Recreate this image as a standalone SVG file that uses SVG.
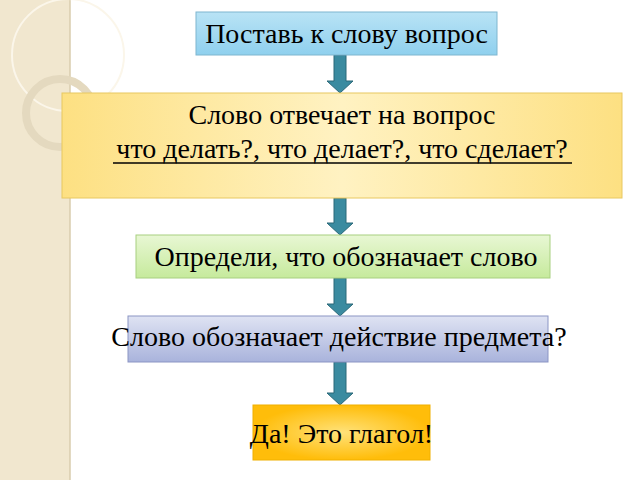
<svg xmlns="http://www.w3.org/2000/svg" width="640" height="480" viewBox="0 0 640 480">
<style>
text{font-family:"Liberation Serif",serif;fill:#000;font-size:28px}
.a{fill:#3b8ba0;stroke:#2a6878;stroke-width:1}
</style>
<defs>
<linearGradient id="g1" x1="0" y1="0" x2="0" y2="1"><stop offset="0" stop-color="#b9e3f5"/><stop offset="1" stop-color="#8fd0ee"/></linearGradient>
<linearGradient id="g2" x1="0" y1="0" x2="1" y2="0"><stop offset="0" stop-color="#fde082"/><stop offset="0.5" stop-color="#fff2c2"/><stop offset="1" stop-color="#fde082"/></linearGradient>
<linearGradient id="g3" x1="0" y1="0" x2="0" y2="1"><stop offset="0" stop-color="#e8f7d4"/><stop offset="1" stop-color="#c6ea9c"/></linearGradient>
<linearGradient id="g4" x1="0" y1="0" x2="0" y2="1"><stop offset="0" stop-color="#dfe3f3"/><stop offset="1" stop-color="#a9b3dc"/></linearGradient>
<radialGradient id="g5"><stop offset="0" stop-color="#ffe27a"/><stop offset="1" stop-color="#ffbd0a"/></radialGradient>
</defs>
<rect width="640" height="480" fill="#fff"/>
<g id="bg">
<rect x="0" y="0" width="70" height="480" fill="#f1e7cf"/>
<line x1="70" y1="0" x2="70" y2="480" stroke="#d8ccae" stroke-width="1.5"/>
<circle cx="68" cy="55" r="56" fill="none" stroke="#fbf6ea" stroke-width="2"/>
<circle cx="60" cy="113" r="34" fill="none" stroke="#e4d9bf" stroke-width="8"/>
</g>
<g id="connectors">
<path class="a" d="M334,55h12v26h7l-13,12l-13,-12h7z"/>
<path class="a" d="M334,198h12v25h7l-13,12l-13,-12h7z"/>
<path class="a" d="M334,278h12v26h7l-13,12l-13,-12h7z"/>
<path class="a" d="M334,362h12v31h7l-13,12l-13,-12h7z"/>
</g>
<g id="n1"><rect x="196" y="12" width="301" height="43" fill="url(#g1)" stroke="#7fb6cf"/><text x="346.5" y="43" text-anchor="middle" font-size="27">Поставь к слову вопрос</text></g>
<g id="n2"><rect x="62" y="93" width="560" height="105" fill="url(#g2)" stroke="#e8c860"/><text x="342" y="124" text-anchor="middle">Слово отвечает на вопрос</text><text x="342" y="158" text-anchor="middle">что делать?, что делает?, что сделает?</text><line x1="113" y1="163" x2="572" y2="163" stroke="#000" stroke-width="1.5"/></g>
<g id="n3"><rect x="136" y="235" width="414" height="43" fill="url(#g3)" stroke="#a8d080"/><text x="346" y="266" text-anchor="middle">Определи, что обозначает слово</text></g>
<g id="n4"><rect x="128" y="316" width="420" height="46" fill="url(#g4)" stroke="#8b95c4"/><text x="339" y="346" text-anchor="middle" font-size="22.5">Слово обозначает действие предмета?</text></g>
<g id="n5"><rect x="253" y="405" width="177" height="55" fill="url(#g5)" stroke="#f0b000"/><text x="341.5" y="443" text-anchor="middle" font-size="25">Да! Это глагол!</text></g>
</svg>
